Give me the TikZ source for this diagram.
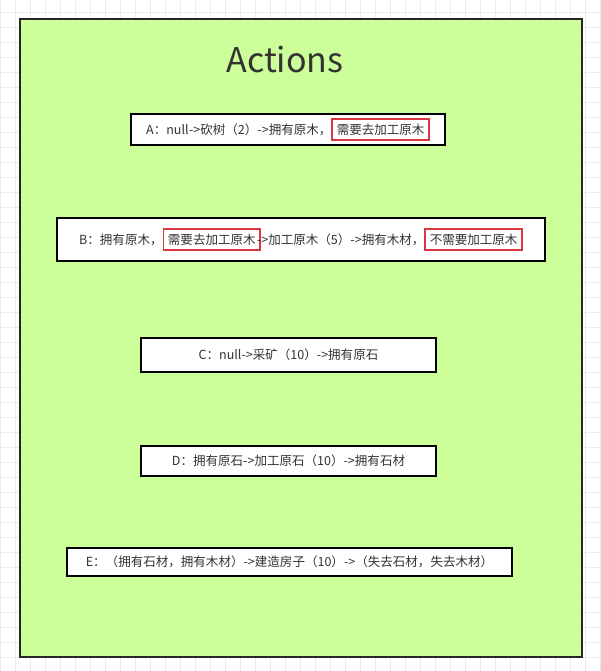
\documentclass[tikz,border=0pt]{standalone}
\usepackage{fontspec}
\setmainfont{Noto Sans CJK SC}
\definecolor{framegreen}{HTML}{CCFF99}
\definecolor{inkgray}{HTML}{333333}
\definecolor{markred}{HTML}{D9363E}
\newcommand{\redmark}[1]{{\setlength{\fboxrule}{1.4pt}\setlength{\fboxsep}{2.6pt}\fcolorbox{markred}{white}{#1}}}
\tikzstyle{gridline}=[draw=black!8, line width=0.5pt]
\tikzstyle{frame}=[draw=black!85, line width=1.5pt, fill=framegreen, minimum width=421.5pt, minimum height=478.5pt]
\tikzstyle{action}=[draw=black, line width=1.1pt, fill=white, text=inkgray, font=\fontsize{9.4}{11}\selectfont, inner sep=0pt]

\begin{document}
\begin{tikzpicture}[x=0.75pt, y=-0.75pt]

\useasboundingbox (0,0) rectangle (600,671);
\fill[white] (0,0) rectangle (600,671);
\begin{scope}[yshift=-9pt]
\draw [gridline, step=11.25pt] (0,-12) grid (600,659);
\end{scope}

\node [frame] (F) at (301, 338) {};
\node [text=inkgray, font=\fontsize{25.5}{30}\selectfont] (title) at (285, 60) {Actions};

\node [action, minimum width=235.5pt, minimum height=23.25pt] (A) at (288, 129.5) {A：null\kern0.3pt->砍树（2）->拥有原木，\redmark{需要去加工原木}};
\node [action, minimum width=366pt, minimum height=32.25pt] (B) at (301, 239.5) {B：拥有原木，\redmark{需要去加工原木}\kern-3pt->加工原木（5）->拥有木材，\redmark{不需要加工原木}};
\node [action, minimum width=221.25pt, minimum height=25.5pt] (C) at (288.5, 355) {C：null->采矿（10）->拥有原石};
\node [action, minimum width=221.25pt, minimum height=22.5pt] (D) at (288.5, 461) {D：拥有原石->加工原石（10）->拥有石材};
\node [action, minimum width=333.75pt, minimum height=21pt] (E) at (289.5, 562) {E：（拥有石材，拥有木材）->建造房子（10）->（失去石材，失去木材）};

\end{tikzpicture}
\end{document}
